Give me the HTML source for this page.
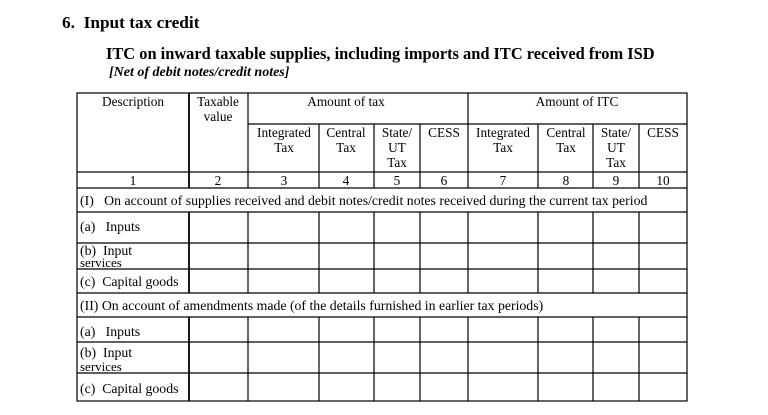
<!DOCTYPE html>
<html><head><meta charset="utf-8"><style>
html,body{margin:0;padding:0;background:#fff;width:768px;height:415px;overflow:hidden}
svg{display:block}
text{font-family:"Liberation Serif",serif;fill:#000}
</style></head><body>
<svg width="768" height="415" viewBox="0 0 768 415" xmlns="http://www.w3.org/2000/svg">
<text x="62" y="28" font-size="17.3" font-weight="bold">6.&#160; Input tax credit</text>
<text x="106" y="59" font-size="16.4" font-weight="bold">ITC on inward taxable supplies, including imports and ITC received from ISD</text>
<text x="109" y="76" font-size="14" font-weight="bold" font-style="italic">[Net of debit notes/credit notes]</text>
<g stroke="#000" stroke-width="1.2" fill="none">
<rect x="77" y="93" width="610" height="308"/>
<line x1="248" y1="124" x2="687" y2="124"/>
<line x1="77" y1="172" x2="687" y2="172"/>
<line x1="77" y1="188" x2="687" y2="188"/>
<line x1="77" y1="212" x2="687" y2="212"/>
<line x1="77" y1="243" x2="687" y2="243"/>
<line x1="77" y1="269" x2="687" y2="269"/>
<line x1="77" y1="293" x2="687" y2="293"/>
<line x1="77" y1="317" x2="687" y2="317"/>
<line x1="77" y1="342" x2="687" y2="342"/>
<line x1="77" y1="373" x2="687" y2="373"/>
<line x1="189" y1="93" x2="189" y2="188" stroke-width="1.8"/>
<line x1="248" y1="93" x2="248" y2="188"/>
<line x1="468" y1="93" x2="468" y2="188"/>
<line x1="319" y1="124" x2="319" y2="188"/>
<line x1="374" y1="124" x2="374" y2="188"/>
<line x1="420" y1="124" x2="420" y2="188"/>
<line x1="538" y1="124" x2="538" y2="188"/>
<line x1="593" y1="124" x2="593" y2="188"/>
<line x1="639" y1="124" x2="639" y2="188"/>
<line x1="189" y1="212" x2="189" y2="293" stroke-width="1.8"/>
<line x1="248" y1="212" x2="248" y2="293"/>
<line x1="319" y1="212" x2="319" y2="293"/>
<line x1="374" y1="212" x2="374" y2="293"/>
<line x1="420" y1="212" x2="420" y2="293"/>
<line x1="468" y1="212" x2="468" y2="293"/>
<line x1="538" y1="212" x2="538" y2="293"/>
<line x1="593" y1="212" x2="593" y2="293"/>
<line x1="639" y1="212" x2="639" y2="293"/>
<line x1="189" y1="317" x2="189" y2="401" stroke-width="1.8"/>
<line x1="248" y1="317" x2="248" y2="401"/>
<line x1="319" y1="317" x2="319" y2="401"/>
<line x1="374" y1="317" x2="374" y2="401"/>
<line x1="420" y1="317" x2="420" y2="401"/>
<line x1="468" y1="317" x2="468" y2="401"/>
<line x1="538" y1="317" x2="538" y2="401"/>
<line x1="593" y1="317" x2="593" y2="401"/>
<line x1="639" y1="317" x2="639" y2="401"/>
</g>
<g font-size="13.3" text-anchor="middle">
<text x="133" y="106">Description</text>
<text x="218" y="106">Taxable</text>
<text x="218" y="121">value</text>
<text x="346" y="106">Amount of tax</text>
<text x="577" y="106">Amount of ITC</text>
<text x="284" y="137">Integrated</text><text x="284" y="152">Tax</text>
<text x="346" y="137">Central</text><text x="346" y="152">Tax</text>
<text x="397" y="137">State/</text><text x="397" y="152">UT</text><text x="397" y="167">Tax</text>
<text x="444" y="137">CESS</text>
<text x="503" y="137">Integrated</text><text x="503" y="152">Tax</text>
<text x="566" y="137">Central</text><text x="566" y="152">Tax</text>
<text x="616" y="137">State/</text><text x="616" y="152">UT</text><text x="616" y="167">Tax</text>
<text x="663" y="137">CESS</text>
<text x="133" y="185">1</text><text x="218" y="185">2</text><text x="284" y="185">3</text>
<text x="346" y="185">4</text><text x="397" y="185">5</text><text x="444" y="185">6</text>
<text x="503" y="185">7</text><text x="566" y="185">8</text><text x="616" y="185">9</text>
<text x="663" y="185">10</text>
</g>
<g font-size="13.8">
<text x="80" y="205">(I)&#160;&#160; On account of supplies received and debit notes/credit notes received during the current tax period</text>
<text x="80" y="231">(a)&#160;&#160; Inputs</text>
<text x="80" y="255">(b)&#160; Input</text>
<text x="80" y="267" font-size="13">services</text>
<text x="80" y="286">(c)&#160; Capital goods</text>
<text x="80" y="310">(II) On account of amendments made (of the details furnished in earlier tax periods)</text>
<text x="80" y="336">(a)&#160;&#160; Inputs</text>
<text x="80" y="357">(b)&#160; Input</text>
<text x="80" y="371" font-size="13">services</text>
<text x="80" y="393">(c)&#160; Capital goods</text>
</g>
</svg>
</body></html>
